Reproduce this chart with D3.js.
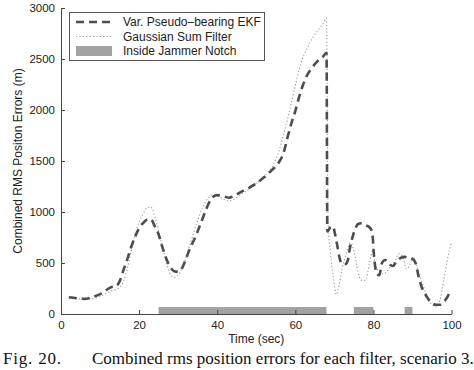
<!DOCTYPE html>
<html>
<head>
<meta charset="utf-8">
<script src="https://cdn.jsdelivr.net/npm/d3@7"></script>
<style>
  body { margin: 0; background: #fff; }
  svg { display: block; }
  .tick text { font-family: "Liberation Sans", Arial, sans-serif; font-size: 11.5px; fill: #222; }
</style>
</head>
<body>
<svg id="chart" width="474" height="370"></svg>
<script>
// time axis ticks / value ticks
const xTicks = [0, 20, 40, 60, 80, 100]
const yTicks = [0, 500, 1000, 1500, 2000, 2500, 3000]

// Var. Pseudo-bearing EKF (dashed)
const ekfTime = [2, 4, 6, 8, 10, 11, 12, 13, 14, 15, 16, 17, 18, 19, 20, 21, 22, 23, 24, 25, 26, 27, 28, 29, 30,
  31, 32, 33, 34, 35, 36, 37, 38, 39, 40, 41, 42, 43, 44, 46, 48, 50, 52, 54, 56, 57, 58, 59, 60, 61, 62, 63, 64,
  65, 66, 67, 68, 68.2, 69, 69.6, 70.2, 70.8, 71.4, 72, 72.8, 73.4, 74, 74.7, 75.4, 76, 77, 78, 79, 79.7, 80.2,
  80.8, 81.5, 82.2, 83, 84, 85, 86, 87, 88, 89, 90, 90.8, 91.5, 92.3, 93.2, 94, 95, 96, 97, 98, 99, 99.5]
const ekfErr = [165, 155, 148, 165, 195, 215, 245, 265, 270, 320, 430, 540, 660, 760, 840, 890, 925, 930, 860, 780,
  650, 540, 460, 420, 415, 450, 540, 640, 720, 810, 910, 1010, 1100, 1150, 1165, 1160, 1150, 1140, 1150, 1195, 1235,
  1280, 1340, 1410, 1500, 1580, 1730, 1870, 1990, 2130, 2250, 2340, 2400, 2450, 2490, 2520, 2560, 810, 850, 860,
  780, 660, 540, 490, 490, 520, 650, 760, 840, 880, 890, 870, 850, 800, 550, 400, 380, 500, 530, 490, 470, 520,
  550, 560, 550, 540, 500, 380, 270, 200, 150, 110, 90, 90, 120, 170, 210]

// Gaussian Sum Filter (dotted)
const gsfTime = [2, 4, 6, 8, 10, 12, 13, 14, 15, 16, 17, 18, 19, 20, 21, 22, 23, 24, 25, 26, 27, 28, 29, 30, 31,
  32, 33, 34, 35, 36, 37, 38, 39, 40, 41, 42, 43, 44, 46, 48, 50, 52, 54, 56, 57, 58, 59, 60, 61, 62, 63, 64, 65,
  66, 67, 68, 68.4, 69, 69.8, 70.5, 71.2, 72, 72.8, 73.5, 74.2, 75, 76, 77, 78, 79, 79.8, 80.5, 81.5, 82.5, 83.5,
  84.5, 85.5, 86.5, 87.5, 88.5, 89.3, 90.2, 91, 92, 93, 94, 95, 96, 97, 98, 99, 100]
const gsfErr = [160, 150, 145, 150, 170, 210, 230, 240, 260, 320, 450, 620, 780, 900, 980, 1040, 1050, 960, 820,
  650, 500, 390, 360, 380, 450, 550, 670, 800, 920, 1020, 1100, 1150, 1170, 1160, 1140, 1120, 1110, 1120, 1170,
  1220, 1280, 1350, 1440, 1620, 1760, 1910, 2070, 2240, 2400, 2520, 2600, 2680, 2740, 2790, 2840, 2900, 900, 600,
  350, 190, 280, 450, 560, 650, 700, 620, 420, 330, 330, 500, 620, 470, 420, 390, 420, 470, 520, 590, 560, 440,
  480, 560, 480, 360, 250, 150, 90, 70, 130, 330, 540, 700]

// jammer notch intervals (sec)
const notchStart = [25, 75, 88]
const notchEnd = [68, 80, 90]

const legendLabels = ["Var. Pseudo\u2013bearing EKF", "Gaussian Sum Filter", "Inside Jammer Notch"]

const margin = { left: 61, right: 22, top: 8, bottom: 56 }
const W = 474, H = 370
const svg = d3.select("#chart")

const x = d3.scaleLinear().domain([0, 100]).range([margin.left, W - margin.right - 0.5])
const y = d3.scaleLinear().domain([0, 3000]).range([H - margin.bottom, margin.top])

// notch bars along the bottom
svg.append("g")
  .selectAll("rect")
  .data(notchStart)
  .join("rect")
  .attr("x", (d) => x(d))
  .attr("y", y(0) - 7)
  .attr("width", (d, i) => x(notchEnd[i]) - x(d))
  .attr("height", 7)
  .attr("fill", "#a2a2a2")

const line = d3.line()
  .x((d) => x(d[0]))
  .y((d) => y(d[1]))
  .curve(d3.curveMonotoneX)

svg.append("path")
  .datum(gsfTime.map((t, i) => [t, gsfErr[i]]))
  .attr("d", line)
  .attr("fill", "none")
  .attr("stroke", "#9a9a9a")
  .attr("stroke-width", 1.1)
  .attr("stroke-dasharray", "1.2,2.2")

svg.append("path")
  .datum(ekfTime.map((t, i) => [t, ekfErr[i]]))
  .attr("d", line)
  .attr("fill", "none")
  .attr("stroke", "#4d4d4d")
  .attr("stroke-width", 2.6)
  .attr("stroke-dasharray", "8,5")

// axes, ticks pointing inward like matlab
svg.append("g")
  .attr("transform", `translate(0,${y(0)})`)
  .call(d3.axisBottom(x).tickValues(xTicks).tickSizeInner(-4).tickSizeOuter(0).tickPadding(7))
svg.append("g")
  .attr("transform", `translate(${margin.left},0)`)
  .call(d3.axisLeft(y).tickValues(yTicks).tickFormat(d3.format("d"))
    .tickSizeInner(-4).tickSizeOuter(0).tickPadding(6))
svg.selectAll(".domain, .tick line").attr("stroke", "#444")

svg.append("text")
  .attr("x", (x(0) + x(100)) / 2)
  .attr("y", 343)
  .attr("text-anchor", "middle")
  .attr("font-family", "Liberation Sans, Arial, sans-serif")
  .attr("font-size", 12)
  .attr("fill", "#222")
  .text("Time (sec)")

svg.append("text")
  .attr("transform", `translate(22,${(y(0) + y(3000)) / 2}) rotate(-90)`)
  .attr("text-anchor", "middle")
  .attr("font-family", "Liberation Sans, Arial, sans-serif")
  .attr("font-size", 12)
  .attr("fill", "#222")
  .text("Combined RMS Positon Errors (m)")

// legend
const lg = svg.append("g")
lg.append("rect")
  .attr("x", 69.5).attr("y", 12.5)
  .attr("width", 195).attr("height", 48)
  .attr("fill", "#fff")
  .attr("stroke", "#555")
const rowY = [22, 36.5, 51]
lg.append("line").attr("x1", 76).attr("x2", 112).attr("y1", rowY[0]).attr("y2", rowY[0])
  .attr("stroke", "#4d4d4d").attr("stroke-width", 2.6).attr("stroke-dasharray", "8,5")
lg.append("line").attr("x1", 76).attr("x2", 112).attr("y1", rowY[1]).attr("y2", rowY[1])
  .attr("stroke", "#9a9a9a").attr("stroke-width", 1.1).attr("stroke-dasharray", "1.2,2.2")
lg.append("rect").attr("x", 76).attr("y", rowY[2] - 5).attr("width", 36).attr("height", 10)
  .attr("fill", "#a2a2a2")
lg.selectAll("text")
  .data(legendLabels)
  .join("text")
  .attr("x", 123)
  .attr("y", (d, i) => rowY[i] + 4.3)
  .attr("text-anchor", "start")
  .attr("font-family", "Liberation Sans, Arial, sans-serif")
  .attr("font-size", 12)
  .attr("fill", "#222")
  .text((d) => d)

// figure caption (cut by the bottom edge like the scan)
const cap = svg.append("text")
  .attr("y", 364)
  .attr("font-family", "Liberation Serif, Times New Roman, serif")
  .attr("font-size", 17)
  .attr("fill", "#111")
cap.append("tspan").attr("x", 3).attr("letter-spacing", 0.8).text("Fig. 20.")
cap.append("tspan").attr("x", 92).text("Combined rms position errors for each filter, scenario 3.")
</script>
</body>
</html>
